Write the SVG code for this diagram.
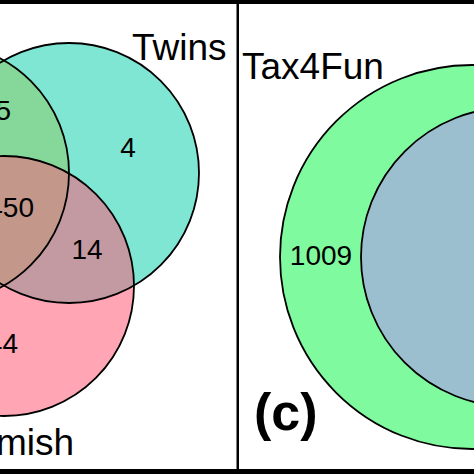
<svg xmlns="http://www.w3.org/2000/svg" width="474" height="474" viewBox="0 0 474 474">
<style>
.lbl{font-family:"Liberation Sans",Arial,sans-serif;font-size:37px;fill:#000}
.num{font-family:"Liberation Sans",Arial,sans-serif;font-size:28px;fill:#000}
.pnl{font-family:"Liberation Sans",Arial,sans-serif;font-size:52px;font-weight:bold;fill:#000}
.edge{fill:none;stroke:#000;stroke-width:1.8}
</style>
<defs>
<clipPath id="cTeal"><circle cx="69" cy="173" r="130"/></clipPath>
<clipPath id="cPink"><circle cx="4" cy="286" r="130"/></clipPath>
<clipPath id="cGreen"><circle cx="-61" cy="173" r="130"/></clipPath>
</defs>
<rect width="474" height="474" fill="#fff"/>
<g id="venn-left">
<g id="teal"><circle cx="69" cy="173" r="130" fill="#80e6d4"/></g>
<g id="pink"><circle cx="4" cy="286" r="130" fill="#ffa5b4"/></g>
<g id="green"><circle cx="-61" cy="173" r="130" fill="#86da98"/></g>
<circle cx="4" cy="286" r="130" fill="#c49aa2" clip-path="url(#cTeal)"/>
<circle cx="-61" cy="173" r="130" fill="#86d89a" clip-path="url(#cTeal)"/>
<circle cx="-61" cy="173" r="130" fill="#c39a8e" clip-path="url(#cPink)"/>
<g clip-path="url(#cTeal)"><circle cx="-61" cy="173" r="130" fill="#c3978a" clip-path="url(#cPink)"/></g>
<circle class="edge" cx="69" cy="173" r="130"/>
<circle class="edge" cx="4" cy="286" r="130"/>
<circle class="edge" cx="-61" cy="173" r="130"/>
<text class="lbl" x="132" y="60">Twins</text>
<text class="lbl" x="-4" y="455">mish</text>
<text class="num" x="128" y="157" text-anchor="middle">4</text>
<text class="num" x="11" y="120" text-anchor="end">5</text>
<text class="num" x="34" y="217" text-anchor="end">450</text>
<text class="num" x="87" y="259" text-anchor="middle">14</text>
<text class="num" x="18" y="353" text-anchor="end">44</text>
</g>
<g id="venn-right">
<g id="outer"><circle cx="472" cy="257" r="192" fill="#80fa9f" stroke="#000" stroke-width="1.8"/></g>
<g id="inner"><circle cx="510.5" cy="257" r="149.5" fill="#9bbfcf" stroke="#000" stroke-width="1.8"/></g>
<text class="lbl" x="242" y="79">Tax4Fun</text>
<text class="num" x="321" y="265" text-anchor="middle">1009</text>
<text class="pnl" x="254" y="430">(c)</text>
</g>
<g id="frame" fill="#000">
<rect x="0" y="0" width="474" height="4"/>
<rect x="0" y="469" width="474" height="5"/>
<rect x="236.5" y="0" width="2.5" height="474"/>
</g>
</svg>
